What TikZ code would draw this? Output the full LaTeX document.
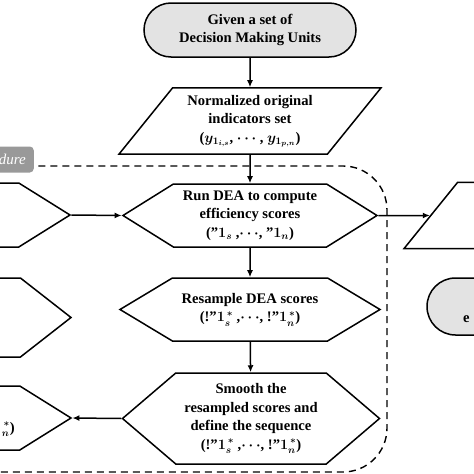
\documentclass[tikz,border=0pt]{standalone}
\usepackage{fontspec}
\setmainfont{Liberation Serif}
\usetikzlibrary{arrows.meta,shapes.misc,shapes.geometric,shapes.symbols}

\begin{document}
\begin{tikzpicture}[
  x=1pt, y=-1pt, >={Latex[length=7pt,width=6pt]},
  every node/.style={font=\fontsize{14.6}{18.5}\selectfont\bfseries\boldmath, align=center},
  term/.style={draw, line width=1.5pt, rounded rectangle, fill=gray!22, minimum height=54pt, inner sep=0pt},
  io/.style={draw, line width=1.5pt, trapezium, trapezium left angle=51, trapezium right angle=129, minimum height=64pt, inner sep=1pt},
  proc/.style={draw, line width=1.5pt, signal, signal to=east and west, inner sep=0pt},
  tag/.style={fill=gray!80, rounded corners=4pt, text=white, font=\fontsize{15}{18}\selectfont\itshape, minimum height=26pt, inner xsep=8pt},
  flow/.style={->, line width=1.5pt},
  frame/.style={dash pattern=on 7pt off 5pt, line width=1.4pt, rounded corners=44pt},
]
\useasboundingbox (0,0) rectangle (474,474);
\clip (0,0) rectangle (474,474);

% dashed procedure frame
\draw[frame] (-80,166) rectangle (387,472);
\node[tag, anchor=east] (tag) at (34,159.5) {\hspace*{40pt}dure};

% main column
\node[term, minimum width=212pt] (start) at (250,30) {Given a set of\\Decision Making Units};
\node[io, minimum width=262pt] (norm) at (250,121) {Normalized original\\indicators set\\($y_{1_{i,s}}$, $\cdots$ , $y_{1_{p,n}}$)};
\node[proc, minimum width=254pt, minimum height=63pt, signal pointer angle=64] (run) at (250,215.5)
  {Run DEA to compute\\efficiency scores\\("$\mathbf{1}_s$ ,$\cdots$, "$\mathbf{1}_n$)};
\node[proc, minimum width=260pt, minimum height=63pt, signal pointer angle=62] (resample) at (250,309.5)
  {Resample DEA scores\\(!"$\mathbf{1}_s^{\,*}$ ,$\cdots$, !"$\mathbf{1}_n^{\,*}$)};
\node[proc, minimum width=257pt, minimum height=91pt, signal pointer angle=81] (smooth) at (251,418.5)
  {Smooth the\\resampled scores and\\define the sequence\\(!"$\mathbf{1}_s^{\,*}$ ,$\cdots$, !"$\mathbf{1}_n^{\,*}$)};

% left column
\node[proc, minimum width=254pt, minimum height=64pt, signal pointer angle=64] (left1) at (-57,215) {};
\node[proc, minimum width=254pt, minimum height=79pt, signal pointer angle=76] (left2) at (-56,317.5) {};
\node[proc, minimum width=254pt, minimum height=64pt, signal pointer angle=64] (left3) at (-56,418) {};
\node[anchor=base east, inner sep=0pt] (left3txt) at (15,432) {$_{n}^{\,*}$)};

% right column
\node[io, minimum width=262pt] (out) at (535,215.5)
  {\phantom{Normalized original}\\\phantom{indicators set}\\\phantom{($y_{1_{i,s}}$, $\cdots$ , $y_{1_{p,n}}$)}};
\node[term, minimum width=212pt, minimum height=57pt] (fin) at (533,306.5) {};
\node[anchor=base west, inner sep=0pt] (fintxt) at (463,322) {e};

\draw[flow] (start) -- (norm);
\draw[flow] (norm) -- (run);
\draw[flow] (run) -- (resample);
\draw[flow] (resample) -- (smooth);
\draw[flow] (left1.east) -- (run.west);
\draw[flow] (smooth.west) -- (left3.east);
\draw[flow] (run.east) -- (out);
\end{tikzpicture}
\end{document}
